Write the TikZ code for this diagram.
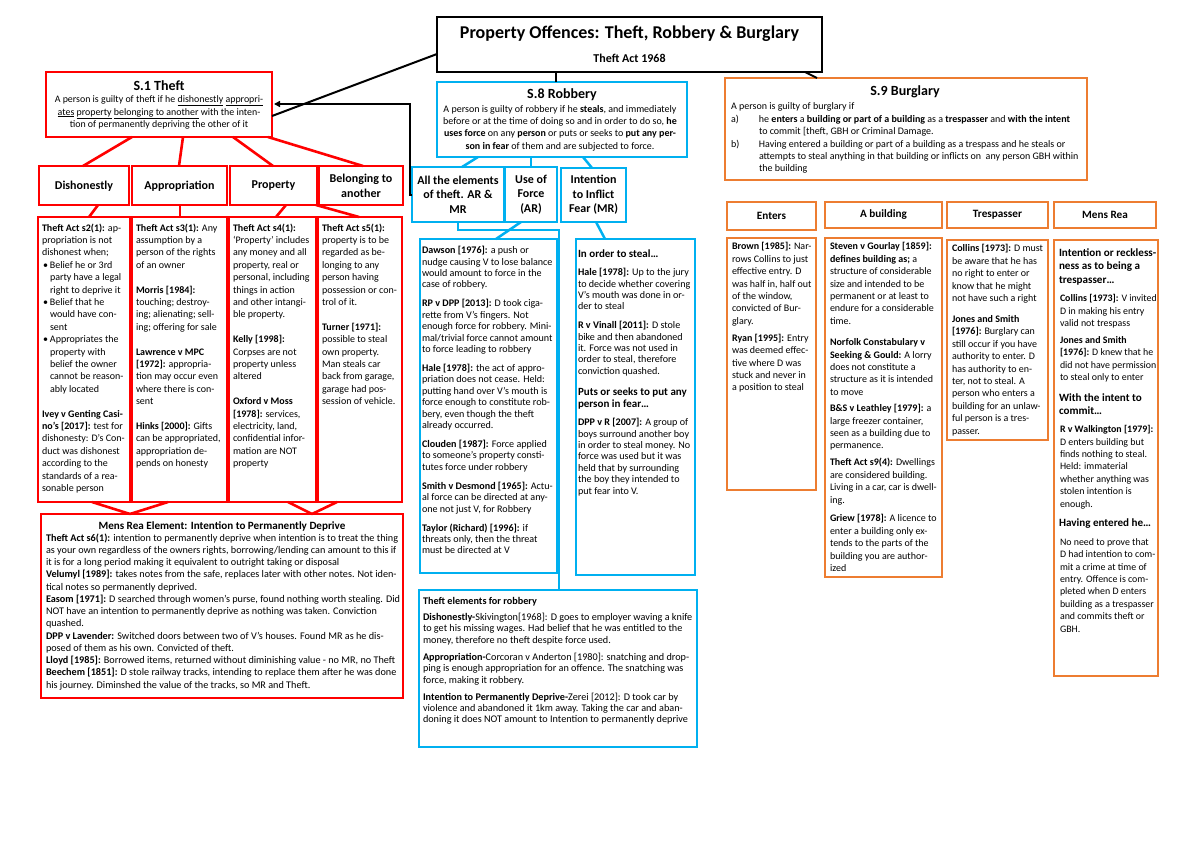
\documentclass[tikz,border=0pt]{standalone}
\usepackage{fontspec}
\setmainfont{Carlito}
\usetikzlibrary{calc,arrows.meta}
\definecolor{tred}{RGB}{255,0,0}
\definecolor{tblue}{RGB}{0,176,240}
\definecolor{torange}{RGB}{237,125,49}
\newcommand\fs[2]{\fontsize{#1}{#2}\selectfont}
\newcommand\tbul{\hspace*{1pt}\makebox[7pt][l]{\textbullet}}
\newcommand\tind{\hspace*{8pt}}
\newcommand\bxn[6]{\pgfmathsetmacro\bxw{#4-#2}\pgfmathsetmacro\bxh{#5-#3}\node[#1,minimum width=\bxw pt,minimum height=\bxh pt] (#6) at (#2,#3) {};}
\begin{document}
\begin{tikzpicture}[x=1pt,y=-1pt,
  bx/.style={rectangle,inner sep=0pt,outer sep=0pt,anchor=north west,fill=white},
  rbox/.style={bx,draw=tred,line width=2.8pt},
  bbox/.style={bx,draw=tblue,line width=2.5pt},
  obox/.style={bx,draw=torange,line width=2.5pt},
  kbox/.style={bx,draw=black,line width=2.2pt},
  txt/.style={anchor=north west,inner sep=0pt,outer sep=0pt,align=left,execute at begin node=\strut},
  ctxt/.style={anchor=north,inner sep=0pt,outer sep=0pt,align=center,execute at begin node=\strut},
  head/.style={inner sep=0pt,align=center,font=\fs{12}{14.5}\bfseries},
  ohead/.style={inner sep=0pt,align=center,font=\fs{11.2}{13}\bfseries},
  rcon/.style={draw=tred,line width=2.6pt},
  bcon/.style={draw=tblue,line width=2.5pt},
  kcon/.style={draw=black,line width=2pt}]
\useasboundingbox[fill=white] (0,0) rectangle (1200,849);

% ---------- boxes ----------
\bxn{kbox}{437}{17}{822}{72}{title}
\bxn{rbox}{46}{72}{272}{137}{s1}
\bxn{rbox}{39}{166}{129}{205}{dis}
\bxn{rbox}{132}{166}{227}{205}{app}
\bxn{rbox}{230}{166}{317}{205}{prp}
\bxn{rbox}{319}{166}{403}{205}{bel}
\bxn{rbox}{38}{217}{130}{502}{c1}
\bxn{rbox}{132}{217}{227}{502}{c2}
\bxn{rbox}{229}{217}{316}{502}{c3}
\bxn{rbox}{318}{217}{402}{502}{c4}
\bxn{rbox}{41}{514}{403}{698}{mr}
\bxn{bbox}{437}{82}{687}{157}{rob}
\bxn{bbox}{412}{167}{504}{222}{ael}
\bxn{bbox}{505}{167}{557}{222}{uof}
\bxn{bbox}{561}{168}{626}{222}{itf}
\bxn{bbox}{420}{239}{557}{573}{rc1}
\bxn{bbox}{576}{239}{695}{575}{rc2}
\bxn{bbox}{419}{590}{697}{747}{tel}
\bxn{obox}{725}{78}{1087}{180}{bur}
\bxn{obox}{727}{202}{816}{230}{hen}
\bxn{obox}{825}{202}{942}{228}{hbu}
\bxn{obox}{947}{202}{1048}{228}{htr}
\bxn{obox}{1054}{202}{1156}{228}{hmr}
\bxn{obox}{727}{238}{816}{490}{cen}
\bxn{obox}{825}{238}{942}{577}{cbu}
\bxn{obox}{947}{240}{1048}{440}{ctr}
\bxn{obox}{1054}{240}{1158}{676}{cmr}

% ---------- connectors ----------
\draw[kcon] ($(title.north west)+(0,37)$) -- ($(s1.north east)+(0,44)$);
\draw[kcon,-{Triangle[length=6pt,width=6pt]}] (ael.west) -- ++(-2,0) |- ($(s1.north east)+(2,32)$);
\draw[kcon] ($(title.south west)+(119,0)$) -- ($(rob.north west)+(119,0)$);
\draw[kcon] ($(title.south east)+(-17,0)$) -- ($(bur.north west)+(92,0)$);

\draw[rcon] ($(s1.south west)+(86,0)$) -- ($(dis.north west)+(44,0)$);
\draw[rcon] ($(s1.south west)+(137,0)$) -- ($(app.north west)+(47,0)$);
\draw[rcon] ($(s1.south west)+(187,0)$) -- ($(prp.north west)+(43,0)$);
\draw[rcon] ($(s1.south west)+(222,0)$) -- ($(bel.north west)+(44,0)$);
\draw[rcon] ($(dis.south west)+(59,0)$) -- ($(c1.north west)+(51,0)$);
\draw[rcon] ($(app.south west)+(48,0)$) -- ($(c2.north west)+(48,0)$);
\draw[rcon] ($(prp.south west)+(56,0)$) -- ($(c3.north west)+(47,0)$);
\draw[rcon] ($(bel.south west)+(-3,0)$) -- ($(c4.north west)+(41,0)$);
\draw[rcon] ($(c1.south west)+(54,0)$) -- ($(mr.north west)+(89,0)$);
\draw[rcon] ($(c2.south west)+(36,0)$) -- ($(mr.north west)+(89,0)$);
\draw[rcon] ($(c3.south west)+(59,0)$) -- ($(mr.north west)+(271,0)$);
\draw[rcon] ($(c4.south west)+(19,0)$) -- ($(mr.north west)+(271,0)$);

\draw[bcon] ($(rob.south west)+(41,0)$) -- ($(ael.north west)+(50,0)$);
\draw[bcon] ($(rob.south west)+(94,0)$) -- ($(uof.north west)+(26,0)$);
\draw[bcon] ($(rob.south west)+(146,0)$) -- ($(itf.north west)+(31,0)$);
\draw[bcon] ($(uof.south west)+(16,0)$) -- ($(rc1.north west)+(76,0)$);
\draw[bcon] ($(itf.south west)+(35,0)$) -- ($(rc2.north west)+(29,0)$);
\draw[bcon] (ael.south) |- ($(uof.south east)+(2,8)$) -- ($(tel.north west)+(140,0)$);

% ---------- title ----------
\node[inner sep=0pt,font=\fs{18}{21}\bfseries] (ttl) at (629.5,34) {Property Offences: Theft, Robbery \& Burglary};
\node[inner sep=0pt,font=\fs{12}{14}\bfseries] (ttl2) at (629.5,58) {Theft Act 1968};

% ---------- S.1 Theft ----------
\node[inner sep=0pt,font=\fs{14}{16}\bfseries] (s1h) at (159,86) {S.1 Theft};
\node[ctxt,font=\fs{9.9}{12.5}] (s1t) at (159,95.8) {A person is guilty of theft if he \underline{dishonestly} \underline{appropri-}\\\underline{ates} \underline{property} \underline{belonging to another} with the inten-\\tion of permanently depriving the other of it};

\node[head] (dist) at (84,186) {Dishonestly};
\node[head] (appt) at (179.5,186) {Appropriation};
\node[head] (prpt) at (273.5,186) {Property};
\node[head] (belt) at (361,186) {Belonging to\\another};

\node[txt,font=\fs{10}{12.4}] (c1t) at (42,223.6) {\textbf{Theft Act s2(1):} ap-\\propriation is not\\dishonest when;\\\tbul Belief he or 3rd\\\tind party have a legal\\\tind right to deprive it\\\tbul Belief that he\\\tind would have con-\\\tind sent\\\tbul Appropriates the\\\tind property with\\\tind belief the owner\\\tind cannot be reason-\\\tind ably located\\[12.4pt]\textbf{Ivey v Genting Casi-}\\\textbf{no’s [2017]:} test for\\dishonesty: D’s Con-\\duct was dishonest\\according to the\\standards of a rea-\\sonable person};

\node[txt,font=\fs{10}{12.4}] (c2t) at (136,223.6) {\textbf{Theft Act s3(1):} Any\\assumption by a\\person of the rights\\of an owner\\[12.4pt]\textbf{Morris [1984]:}\\touching; destroy-\\ing; alienating; sell-\\ing; offering for sale\\[12.4pt]\textbf{Lawrence v MPC}\\\textbf{[1972]:} appropria-\\tion may occur even\\where there is con-\\sent\\[12.4pt]\textbf{Hinks [2000]:} Gifts\\can be appropriated,\\appropriation de-\\pends on honesty};

\node[txt,font=\fs{10}{12.4}] (c3t) at (233,223.6) {\textbf{Theft Act s4(1):}\\`Property' includes\\any money and all\\property, real or\\personal, including\\things in action\\and other intangi-\\ble property.\\[12.4pt]\textbf{Kelly [1998]:}\\Corpses are not\\property unless\\altered\\[12.4pt]\textbf{Oxford v Moss}\\\textbf{[1978]:} services,\\electricity, land,\\confidential infor-\\mation are NOT\\property};

\node[txt,font=\fs{10}{12.4}] (c4t) at (322,223.6) {\textbf{Theft Act s5(1):}\\property is to be\\regarded as be-\\longing to any\\person having\\possession or con-\\trol of it.\\[12.4pt]\textbf{Turner [1971]:}\\possible to steal\\own property.\\Man steals car\\back from garage,\\garage had pos-\\session of vehicle.};

\node[inner sep=0pt,font=\fs{11.1}{13}\bfseries] (mrh) at (222,526.5) {Mens Rea Element: Intention to Permanently Deprive};
\node[txt,font=\fs{10.2}{12.25}] (mrt) at (46,533.6) {\textbf{Theft Act s6(1):} intention to permanently deprive when intention is to treat the thing\\as your own regardless of the owners rights, borrowing/lending can amount to this if\\it is for a long period making it equivalent to outright taking or disposal\\\textbf{Velumyl [1989]:} takes notes from the safe, replaces later with other notes. Not iden-\\tical notes so permanently deprived.\\\textbf{Easom [1971]:} D searched through women’s purse, found nothing worth stealing. Did\\NOT have an intention to permanently deprive as nothing was taken. Conviction\\quashed.\\\textbf{DPP v Lavender:} Switched doors between two of V’s houses. Found MR as he dis-\\posed of them as his own. Convicted of theft.\\\textbf{Lloyd [1985]:} Borrowed items, returned without diminishing value - no MR, no Theft\\\textbf{Beechem [1851]:} D stole railway tracks, intending to replace them after he was done\\his journey. Diminshed the value of the tracks, so MR and Theft.};

% ---------- S.8 Robbery ----------
\node[inner sep=0pt,font=\fs{14}{16}\bfseries] (robh) at (562,95) {S.8 Robbery};
\node[ctxt,font=\fs{10}{12.3}] (robt) at (560,105.2) {A person is guilty of robbery if he \textbf{steals}, and immediately\\before or at the time of doing so and in order to do so, \textbf{he}\\\textbf{uses force} on any \textbf{person} or puts or seeks to \textbf{put any per-}\\\textbf{son in fear} of them and are subjected to force.};

\node[head] (aelt) at (458,194.5) {All the elements\\of theft. AR \&\\MR};
\node[head] (uoft) at (531,194.5) {Use of\\Force\\(AR)};
\node[head] (itft) at (593.5,195) {Intention\\to Inflict\\Fear (MR)};

\node[txt,font=\fs{10.1}{11.4}] (rc1t) at (422,246.4) {\textbf{Dawson [1976]:} a push or\\nudge causing V to lose balance\\would amount to force in the\\case of robbery.\\[7.6pt]\textbf{RP v DPP [2013]:} D took ciga-\\rette from V’s fingers. Not\\enough force for robbery. Mini-\\mal/trivial force cannot amount\\to force leading to robbery\\[7.6pt]\textbf{Hale [1978]:} the act of appro-\\priation does not cease. Held:\\putting hand over V’s mouth is\\force enough to constitute rob-\\bery, even though the theft\\already occurred.\\[7.6pt]\textbf{Clouden [1987]:} Force applied\\to someone’s property consti-\\tutes force under robbery\\[7.6pt]\textbf{Smith v Desmond [1965]:} Actu-\\al force can be directed at any-\\one not just V, for Robbery\\[7.6pt]\textbf{Taylor (Richard) [1996]:} if\\threats only, then the threat\\must be directed at V};

\node[txt,font=\fs{11}{12.3}\bfseries] (rc2a) at (578,249) {In order to steal…};
\node[txt,font=\fs{10.1}{11.4}] (rc2b) at (578,268.4) {\textbf{Hale [1978]:} Up to the jury\\to decide whether covering\\V’s mouth was done in or-\\der to steal};
\node[txt,font=\fs{10.1}{11.4}] (rc2c) at (578,321.4) {\textbf{R v Vinall [2011]:} D stole\\bike and then abandoned\\it. Force was not used in\\order to steal, therefore\\conviction quashed.};
\node[txt,font=\fs{11}{12.3}\bfseries] (rc2d) at (578,387.6) {Puts or seeks to put any\\person in fear…};
\node[txt,font=\fs{10.1}{11.4}] (rc2e) at (578,418.4) {\textbf{DPP v R [2007]:} A group of\\boys surround another boy\\in order to steal money. No\\force was used but it was\\held that by surrounding\\the boy they intended to\\put fear into V.};

\node[txt,font=\fs{10.2}{11.4}] (telt) at (423,597.4) {\textbf{Theft elements for robbery}\\[4.6pt]\textbf{Dishonestly-}Skivington[1968]: D goes to employer waving a knife\\to get his missing wages. Had belief that he was entitled to the\\money, therefore no theft despite force used.\\[5.6pt]\textbf{Appropriation-}Corcoran v Anderton [1980]: snatching and drop-\\ping is enough appropriation for an offence. The snatching was\\force, making it robbery.\\[5.6pt]\textbf{Intention to Permanently Deprive-}Zerei [2012]: D took car by\\violence and abandoned it 1km away. Taking the car and aban-\\doning it does NOT amount to Intention to permanently deprive};

% ---------- S.9 Burglary ----------
\node[inner sep=0pt,font=\fs{14}{16}\bfseries] (burh) at (905,92) {S.9 Burglary};
\node[txt,font=\fs{10}{12.4}] (burt) at (731,103) {A person is guilty of burglary if\\\makebox[28pt][l]{a)}he \textbf{enters} a \textbf{building or part of a building} as a \textbf{trespasser} and \textbf{with the intent}\\\hspace*{28pt}to commit [theft, GBH or Criminal Damage.\\\makebox[28pt][l]{b)}Having entered a building or part of a building as a trespass and he steals or\\\hspace*{28pt}attempts to steal anything in that building or inflicts on\ \ any person GBH within\\\hspace*{28pt}the building};

\node[ohead] (hent) at (771.5,216) {Enters};
\node[ohead] (hbut) at (883.5,215) {A building};
\node[ohead] (htrt) at (997.5,215) {Trespasser};
\node[ohead] (hmrt) at (1105,215) {Mens Rea};

\node[txt,font=\fs{10}{12.4}] (cent) at (732,242.6) {\textbf{Brown [1985]:} Nar-\\rows Collins to just\\effective entry. D\\was half in, half out\\of the window,\\convicted of Bur-\\glary.\\[4.5pt]\textbf{Ryan [1995]:} Entry\\was deemed effec-\\tive where D was\\stuck and never in\\a position to steal};

\node[txt,font=\fs{10}{12.4}] (cbut) at (830,242.6) {\textbf{Steven v Gourlay [1859]:}\\\textbf{defines building as;} a\\structure of considerable\\size and intended to be\\permanent or at least to\\endure for a considerable\\time.\\[9pt]\textbf{Norfolk Constabulary v}\\\textbf{Seeking \& Gould:} A lorry\\does not constitute a\\structure as it is intended\\to move\\[4pt]\textbf{B\&S v Leathley [1979]:} a\\large freezer container,\\seen as a building due to\\permanence.\\[4.5pt]\textbf{Theft Act s9(4):} Dwellings\\are considered building.\\Living in a car, car is dwell-\\ing.\\[6.5pt]\textbf{Griew [1978]:} A licence to\\enter a building only ex-\\tends to the parts of the\\building you are author-\\ized};

\node[txt,font=\fs{10}{12.4}] (ctrt) at (952,244.6) {\textbf{Collins [1973]:} D must\\be aware that he has\\no right to enter or\\know that he might\\not have such a right\\[8.6pt]\textbf{Jones and Smith}\\\textbf{[1976]:} Burglary can\\still occur if you have\\authority to enter. D\\has authority to en-\\ter, not to steal. A\\person who enters a\\building for an unlaw-\\ful person is a tres-\\passer.};

\node[txt,font=\fs{11.1}{13.6}\bfseries] (cm1) at (1059,248.5) {Intention or reckless-\\ness as to being a\\trespasser…};
\node[txt,font=\fs{9.9}{12.4}] (cm2) at (1060,294.4) {\textbf{Collins [1973]:} V invited\\D in making his entry\\valid not trespass};
\node[txt,font=\fs{9.9}{12.4}] (cm3) at (1060,336.4) {\textbf{Jones and Smith}\\\textbf{[1976]:} D knew that he\\did not have permission\\to steal only to enter};
\node[txt,font=\fs{11.1}{13.3}\bfseries] (cm4) at (1059,393.5) {With the intent to\\commit…};
\node[txt,font=\fs{9.9}{12.4}] (cm5) at (1060,425.4) {\textbf{R v Walkington [1979]:}\\D enters building but\\finds nothing to steal.\\Held: immaterial\\whether anything was\\stolen intention is\\enough.};
\node[txt,font=\fs{11.1}{13.3}\bfseries] (cm6) at (1059,517.5) {Having entered he…};
\node[txt,font=\fs{9.9}{12.4}] (cm7) at (1060,538.4) {No need to prove that\\D had intention to com-\\mit a crime at time of\\entry. Offence is com-\\pleted when D enters\\building as a trespasser\\and commits theft or\\GBH.};
\end{tikzpicture}
\end{document}
